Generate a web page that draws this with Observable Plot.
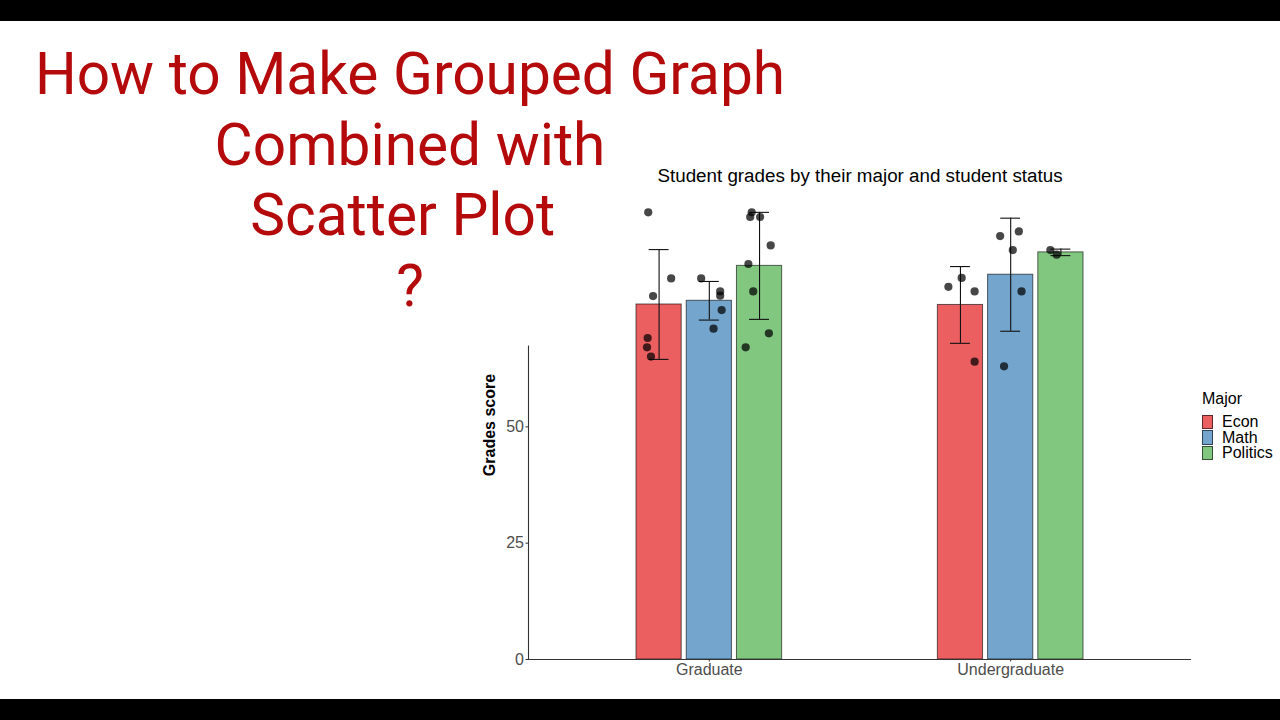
<!DOCTYPE html>
<html>
<head>
<meta charset="utf-8">
<script src="https://cdn.jsdelivr.net/npm/d3@7"></script>
<script src="https://cdn.jsdelivr.net/npm/@observablehq/plot@0.6"></script>
<style>
  body { margin: 0; background: #fff; }
  #page { position: relative; width: 1280px; height: 720px; background: #fff; overflow: hidden; font-family: "Liberation Sans", Arial, sans-serif; }
  .band { position: absolute; left: 0; width: 1280px; background: #000; }
  #big { position: absolute; left: 0; top: 39px; width: 820px; text-align: center; font-family: Roboto, "Noto Sans", sans-serif; font-size: 58.6px; line-height: 70.5px; color: #B40A0C; }
  #ctitle { position: absolute; left: 560px; width: 600px; top: 165px; text-align: center; font-size: 18.8px; color: #000; }
  #chart { position: absolute; left: 470px; top: 190px; }
  #legend { position: absolute; left: 1202px; top: 390px; font-size: 16px; color: #000; }
  #legend .row { display: flex; align-items: center; height: 15.7px; }
  #legend .key { height: 14.5px; border: 0.8px solid rgba(0,0,0,0.6); box-sizing: border-box; width: 11px; margin-right: 9px; }
</style>
</head>
<body>
<div id="page">
  <div class="band" style="top:0;height:21px"></div>
  <div class="band" style="top:699px;height:21px"></div>
  <div id="big">How to Make Grouped Graph<br>Combined with<br>Scatter Plot&nbsp;<br>?</div>
  <div id="ctitle">Student grades by their major and student status</div>
  <div id="chart"></div>
  <div id="legend"></div>
</div>
<script>
// ---- data ----
const statuses = ["Graduate", "Undergraduate"];
const majors = ["Econ", "Math", "Politics"];
const majorColors = ["#EB5F61", "#73A5CD", "#82C780"];

// bar means and standard deviations (Econ, Math, Politics)
const meanGraduate = [76.3, 77.1, 84.6];
const meanUndergraduate = [76.2, 82.7, 87.5];
const sdGraduate = [11.8, 4.15, 11.5];
const sdUndergraduate = [8.25, 12.15, 0.7];

// individual student scores
const pointStatus = [
  "Graduate","Graduate","Graduate","Graduate","Graduate","Graduate",
  "Graduate","Graduate","Graduate","Graduate","Graduate",
  "Graduate","Graduate","Graduate","Graduate","Graduate","Graduate","Graduate","Graduate",
  "Undergraduate","Undergraduate","Undergraduate","Undergraduate",
  "Undergraduate","Undergraduate","Undergraduate","Undergraduate","Undergraduate",
  "Undergraduate","Undergraduate"
];
const pointMajor = [
  "Econ","Econ","Econ","Econ","Econ","Econ",
  "Math","Math","Math","Math","Math",
  "Politics","Politics","Politics","Politics","Politics","Politics","Politics","Politics",
  "Econ","Econ","Econ","Econ",
  "Math","Math","Math","Math","Math",
  "Politics","Politics"
];
const pointScore = [
  96.1, 81.9, 78.1, 69.1, 67.1, 65.1,
  81.9, 79.1, 78.2, 75.1, 71.1,
  96.1, 95.1, 95.1, 89.0, 85.0, 79.1, 70.1, 67.1,
  82.0, 80.1, 79.1, 64.0,
  92.0, 91.0, 88.0, 79.1, 63.0,
  88.0, 87.0
];
// horizontal jitter of each point (fraction of a group unit)
const pointJitter = [
  -0.036, 0.040, -0.020, -0.038, -0.040, -0.027,
  -0.027, 0.036, 0.036, 0.041, 0.014,
  -0.026, -0.031, 0.002, 0.037, -0.037, -0.021, 0.031, -0.046,
  0.004, -0.040, 0.047, 0.047,
  0.027, -0.035, 0.007, 0.036, -0.022,
  -0.035, -0.014
];
const yTicks = [0, 25, 50];

// ---- build tables ----
const dodge = 1 / 6, halfBar = 0.075, halfCap = 0.033;
const xOf = (status, major) => statuses.indexOf(status) + 1 + (majors.indexOf(major) - 1) * dodge;

const bars = [];
statuses.forEach((s, si) => {
  const means = si === 0 ? meanGraduate : meanUndergraduate;
  const sds = si === 0 ? sdGraduate : sdUndergraduate;
  majors.forEach((m, mi) => bars.push({status: s, major: m, mean: means[mi], sd: sds[mi]}));
});
const points = pointScore.map((v, i) => ({status: pointStatus[i], major: pointMajor[i], score: v, jitter: pointJitter[i]}));

const chart = Plot.plot({
  width: 730,
  height: 510,
  marginLeft: 58,
  marginRight: 9,
  marginTop: 10,
  marginBottom: 41,
  style: {fontFamily: "'Liberation Sans', Arial, sans-serif", fontSize: "16px", background: "transparent", overflow: "visible"},
  x: {domain: [0.4, 2.6], axis: null},
  y: {domain: [0, 98.65], axis: null},
  color: {domain: majors, range: majorColors},
  marks: [
    Plot.rectY(bars, {
      x1: d => xOf(d.status, d.major) - halfBar,
      x2: d => xOf(d.status, d.major) + halfBar,
      y1: 0, y2: "mean", fill: "major",
      stroke: "black", strokeOpacity: 0.6, strokeWidth: 1
    }),
    Plot.ruleX(bars, {x: d => xOf(d.status, d.major), y1: d => d.mean - d.sd, y2: d => d.mean + d.sd, stroke: "#111", strokeWidth: 1.1}),
    Plot.ruleY(bars, {y: d => d.mean + d.sd, x1: d => xOf(d.status, d.major) - halfCap, x2: d => xOf(d.status, d.major) + halfCap, stroke: "#111", strokeWidth: 1.1}),
    Plot.ruleY(bars, {y: d => d.mean - d.sd, x1: d => xOf(d.status, d.major) - halfCap, x2: d => xOf(d.status, d.major) + halfCap, stroke: "#111", strokeWidth: 1.1}),
    Plot.dot(points, {x: d => xOf(d.status, d.major) + d.jitter, y: "score", r: 4.1, fill: "black", fillOpacity: 0.72, stroke: "none"}),
    // axis lines
    Plot.ruleY([0], {stroke: "#333", strokeWidth: 1.1}),
    Plot.ruleX([0.4], {y1: 0, y2: 67.4, stroke: "#333", strokeWidth: 1.1}),
    Plot.axisY({ticks: yTicks, tickSize: 2.5, tickPadding: 2, stroke: "#333", fill: "#4D4D4D", label: null}),
    Plot.axisX({ticks: [1, 2], tickFormat: i => statuses[i - 1], tickSize: 2.5, tickPadding: 2, stroke: "#333", fill: "#4D4D4D", label: null}),
    Plot.text(["Grades score"], {frameAnchor: "left", textAnchor: "middle", dx: -39, dy: -5, rotate: -90, fontWeight: "bold", fontSize: 16, fill: "#000"})
  ]
});
document.getElementById("chart").appendChild(chart);

// legend built from the same scale
const legend = document.getElementById("legend");
const head = document.createElement("div");
head.textContent = "Major";
head.style.height = "24px";
legend.appendChild(head);
majors.forEach(m => {
  const row = document.createElement("div");
  row.className = "row";
  const key = document.createElement("div");
  key.className = "key";
  key.style.background = chart.scale("color").apply(m);
  const lab = document.createElement("span");
  lab.textContent = m;
  row.appendChild(key);
  row.appendChild(lab);
  legend.appendChild(row);
});
</script>
</body>
</html>
